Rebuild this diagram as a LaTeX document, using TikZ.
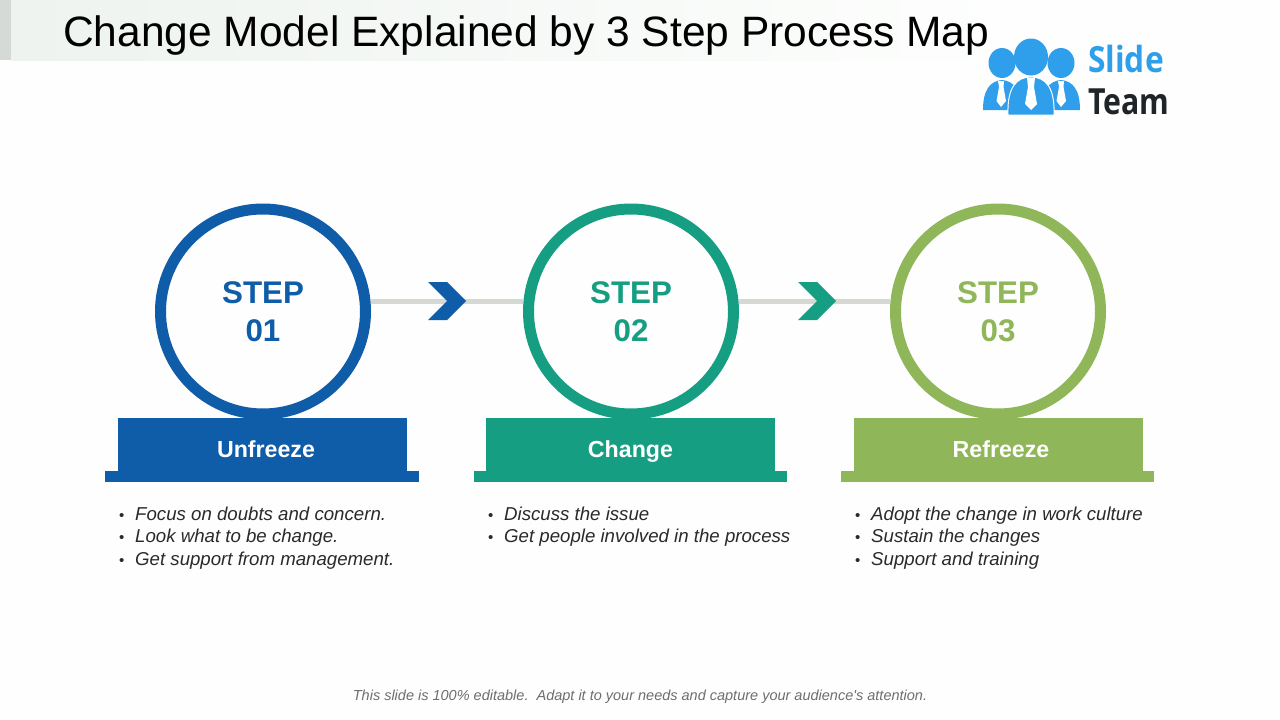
\documentclass[tikz,border=0pt]{standalone}
\usepackage{fontspec}
\setmainfont{Liberation Sans}
\newfontfamily\logofont{Open Sans}
\usepackage{xcolor}
\usepackage{tikz}
\usetikzlibrary{arrows.meta, positioning, calc}

\definecolor{stepblue}{HTML}{0F5CA8}
\definecolor{stepgreen}{HTML}{169E82}
\definecolor{stepolive}{HTML}{8FB659}
\definecolor{linkgray}{HTML}{D5D8D3}
\definecolor{bandtint}{HTML}{EEF3EF}
\definecolor{bartint}{HTML}{D6DAD6}
\definecolor{pagetint}{HTML}{FDFEFD}
\definecolor{logoblue}{HTML}{2F9FEC}
\definecolor{logodark}{HTML}{1F2428}
\definecolor{listtext}{HTML}{2A2A2A}
\definecolor{notetext}{HTML}{6E6E6E}

\newcommand{\stepitem}[1]{\makebox[16pt][l]{\fontsize{15}{15}\selectfont\upshape\textbullet}#1}
\newcommand{\chevpath}{(-19,-19) -- (0,-19) -- (19,0) -- (0,19) -- (-19,19) -- (0,0) -- cycle}

\begin{document}
\begin{tikzpicture}[
    x=1pt, y=-1pt,
    % Node styles with colors
    ringnode/.style={circle, draw=#1, line width=11pt, fill=pagetint, minimum size=205pt, inner sep=0pt, align=center, text=#1, font=\fontsize{31.3}{38}\selectfont\bfseries},
    namebox/.style={rectangle, fill=#1, minimum width=289pt, minimum height=64pt, inner sep=0pt, text height=19pt, text depth=4pt, text=white, font=\fontsize{23.2}{27}\selectfont\bfseries},
    footbox/.style={rectangle, fill=#1, minimum width=313.5pt, minimum height=11pt, inner sep=0pt},
    listnode/.style={anchor=north west, inner sep=0pt, align=left, text=listtext, font=\fontsize{18.65}{22.5}\selectfont\itshape},
    linkline/.style={draw=linkgray, line width=5pt},
    tieshape/.style={fill=white}
]
\useasboundingbox (0,0) rectangle (1280,720);
\fill[pagetint] (0,0) rectangle (1280,720);

% Title band
\shade[left color=bandtint, right color=pagetint] (11,0) rectangle (1000,60);
\fill[bartint] (0,0) rectangle (11,60);
\node[anchor=base west, inner sep=0pt, font=\fontsize{42.5}{50}\selectfont, text=black] (title) at (63,46) {Change Model Explained by 3 Step Process Map};

% Logo
\fill[logoblue] (983,110) .. controls (983,90) and (990,81) .. (1002,80) .. controls (1014,81) and (1021,90) .. (1021,110) -- cycle;
\fill[logoblue] (1042,110) .. controls (1042,90) and (1049,81) .. (1061,80) .. controls (1073,81) and (1080,90) .. (1080,110) -- cycle;
\fill[logoblue] (1002,63) ellipse (13.5 and 15);
\fill[logoblue] (1061,63) ellipse (13.5 and 15);
\filldraw[fill=logoblue, draw=white, line width=1pt] (1008,115) .. controls (1007,88) and (1016,77) .. (1031,77) .. controls (1046,77) and (1055,88) .. (1054,115) -- cycle;
\fill[logoblue] (1031,57) ellipse (17 and 18.5);
\fill[tieshape] (998,81) -- (1004,81) -- (1003.5,87) -- (1006,101) -- (1001,107) -- (996.5,101) -- (999,87) -- cycle;
\fill[tieshape] (1058,81) -- (1064,81) -- (1063.5,87) -- (1066,101) -- (1061,107) -- (1056.5,101) -- (1059,87) -- cycle;
\fill[tieshape] (1027,78) -- (1035,78) -- (1034,87) -- (1037,104) -- (1031,110) -- (1025,104) -- (1028,87) -- cycle;
\node[anchor=base west, inner sep=0pt, font=\logofont\fontsize{36}{36}\selectfont\bfseries, text=logoblue] (slide) at (1088,72) {\scalebox{0.88}[1]{Slide}};
\node[anchor=base west, inner sep=0pt, font=\logofont\fontsize{36}{36}\selectfont\bfseries, text=logodark] (team) at (1088,114) {\scalebox{0.84}[1]{Team}};

% Step circles
\node[ringnode=stepblue] (circ1) at (263,311.5) {STEP\\01};
\node[ringnode=stepgreen] (circ2) at (631,311.5) {STEP\\02};
\node[ringnode=stepolive] (circ3) at (998,311.5) {STEP\\03};

% Lines between circles
\coordinate (chev1) at (447,301);
\coordinate (chev2) at (817,301);
\draw[linkline] (circ1.east |- chev1) -- (circ2.west |- chev1);
\draw[linkline] (circ2.east |- chev2) -- (circ3.west |- chev2);
\fill[stepblue, shift={(chev1)}] \chevpath;
\fill[stepgreen, shift={(chev2)}] \chevpath;

% Name plates
\node[footbox=stepblue] (foot1) at (262,476.5) {};
\node[footbox=stepgreen] (foot2) at (630.5,476.5) {};
\node[footbox=stepolive] (foot3) at (997.5,476.5) {};
\node[namebox=stepblue] (name1) at (262,450) {\hspace*{8pt}Unfreeze};
\node[namebox=stepgreen] (name2) at (630.5,450) {Change};
\node[namebox=stepolive] (name3) at (998,450) {\hspace*{6pt}Refreeze};

% Bullet lists
\node[listnode] (list1) at (119,506.5) {\stepitem{Focus on doubts and concern.}\\\stepitem{Look what to be change.}\\\stepitem{Get support from management.}};
\node[listnode] (list2) at (488,506.5) {\stepitem{Discuss the issue}\\\stepitem{Get people involved in the process}};
\node[listnode] (list3) at (855,506.5) {\stepitem{Adopt the change in work culture}\\\stepitem{Sustain the changes}\\\stepitem{Support and training}};

% Footer note
\node[inner sep=0pt, text=notetext, font=\fontsize{14.5}{17}\selectfont\itshape] (note) at (640,696.5) {This slide is 100\% editable.\ \ Adapt it to your needs and capture your audience\textquotesingle s attention.};

\end{tikzpicture}
\end{document}
